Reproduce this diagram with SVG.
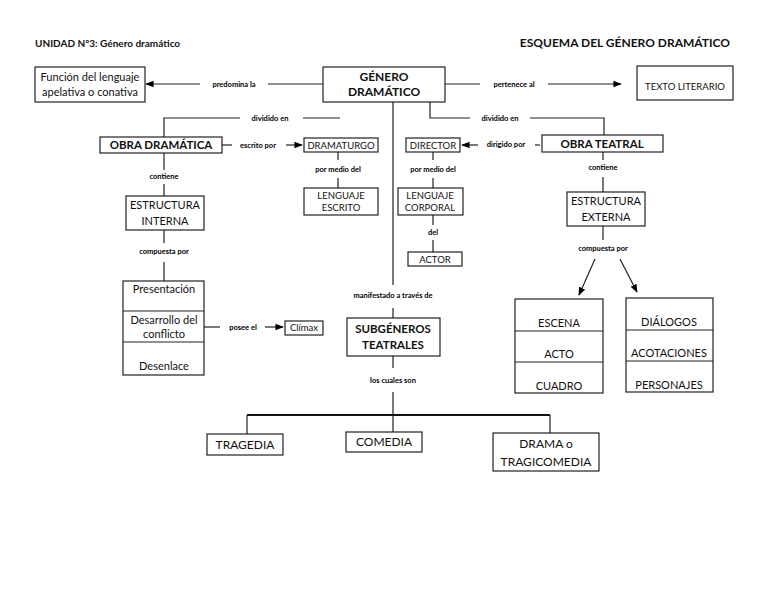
<svg xmlns="http://www.w3.org/2000/svg" width="768" height="594" viewBox="0 0 768 594">
<defs>
<marker id="ah" viewBox="0 0 10 10" refX="9" refY="5" markerWidth="7" markerHeight="7" orient="auto-start-reverse"><path d="M0,1 L10,5 L0,9 z" fill="#000"/></marker>
<style>
text{font-family:Lato,"Open Sans","Liberation Sans",sans-serif;fill:#111;text-anchor:middle}
.b{fill:#fff;stroke:#222;stroke-width:1.2}
.l{stroke:#222;stroke-width:1.2;fill:none}
.t{font-size:11px}
.s{font-size:7.5px;font-weight:bold;fill:#000}
.h{font-size:12px;font-weight:bold}
.m{font-size:11.5px;font-weight:bold}
.n{font-size:9.5px}
</style>
</defs>
<rect width="768" height="594" fill="#fff"/>
<text x="35" y="47" style="text-anchor:start;font-size:10px;font-weight:bold">UNIDAD N°3: Género dramático</text>
<text x="730" y="47" style="text-anchor:end;font-size:12px;font-weight:bold">ESQUEMA DEL GÉNERO DRAMÁTICO</text>

<g id="connectors">
<path class="l" d="M200,84 H146" marker-end="url(#ah)"/><path class="l" d="M268,84 H323"/>
<text class="s" x="234" y="87">predomina la</text>
<path class="l" d="M445,84 H480"/><path class="l" d="M548,84 H621" marker-end="url(#ah)"/>
<text class="s" x="514" y="87">pertenece al</text>
<path class="l" d="M340,118 H303 M240,118 H164 V137"/><text class="s" x="270" y="121">dividido en</text>
<path class="l" d="M222,145 H232"/><path class="l" d="M286,145 H302" marker-end="url(#ah)"/><text class="s" x="258" y="148">escrito por</text>
<path class="l" d="M338,152 V160 M338,178 V188"/><text class="s" x="338" y="172">por medio del</text>
<path class="l" d="M164,153 V170 M164,184 V196"/><text class="s" x="164" y="179">contiene</text>
<path class="l" d="M164,230 V243 M164,262 V281"/><text class="s" x="164" y="254">compuesta por</text>
<path class="l" d="M204,327 H220"/><path class="l" d="M265,327 H283" marker-end="url(#ah)"/><text class="s" x="243" y="330">posee el</text>
<path class="l" d="M393,102 V285 M393,308 V318"/><text class="s" x="393" y="298">manifestado a través de</text>
<path class="l" d="M393,356 V368 M393,392 V415"/><text class="s" x="393" y="383">los cuales son</text>
<path d="M247,415 H550" stroke="#111" stroke-width="2.2" fill="none"/>
<path class="l" d="M247,415 V434 M393,415 V432 M550,415 V433"/>
<path class="l" d="M430,102 V118 H470 M530,118 H604 V135"/><text class="s" x="500" y="121">dividido en</text>
<path class="l" d="M540,145 H535"/><path class="l" d="M478,145 H462" marker-end="url(#ah)"/><text class="s" x="506" y="147">dirigido por</text>
<path class="l" d="M433,152 V160 M433,178 V188"/><text class="s" x="433" y="172">por medio del</text>
<path class="l" d="M433,215 V225 M433,240 V252"/><text class="s" x="433" y="235">del</text>
<path class="l" d="M603,152 V160 M603,177 V192"/><text class="s" x="603" y="170">contiene</text>
<path class="l" d="M603,226 V240"/><text class="s" x="603" y="251">compuesta por</text>
<path class="l" d="M595,259 L579,295" marker-end="url(#ah)"/>
<path class="l" d="M620,259 L637,292" marker-end="url(#ah)"/>
</g>

<g id="funcion"><rect class="b" x="35" y="67" width="110" height="35"/><text class="t" x="90" y="81">Función del lenguaje</text><text class="t" x="90" y="96">apelativa o conativa</text></g>
<g id="genero"><rect class="b" x="323" y="67" width="122" height="35"/><text class="h" x="384" y="81">GÉNERO</text><text class="h" x="384" y="96">DRAMÁTICO</text></g>
<g id="texto"><rect class="b" x="637" y="66" width="96" height="34"/><text class="n" x="685" y="90">TEXTO LITERARIO</text></g>
<g id="obra-dramatica"><rect class="b" x="100" y="137" width="122" height="16"/><text class="m" x="161" y="149">OBRA DRAMÁTICA</text></g>
<g id="dramaturgo"><rect class="b" x="304" y="138" width="74" height="14"/><text class="n" x="341" y="149">DRAMATURGO</text></g>
<g id="lenguaje-escrito"><rect class="b" x="304" y="188" width="74" height="27"/><text class="n" x="341" y="199">LENGUAJE</text><text class="n" x="341" y="211">ESCRITO</text></g>
<g id="estructura-interna"><rect class="b" x="126" y="196" width="78" height="34"/><text class="t" x="165" y="209">ESTRUCTURA</text><text class="t" x="165" y="225">INTERNA</text></g>
<g id="partes"><rect class="b" x="123" y="281" width="81" height="94"/><path class="l" d="M123,311 H204 M123,342 H204"/>
<text class="t" x="164" y="293">Presentación</text><text class="t" x="164" y="324">Desarrollo del</text><text class="t" x="164" y="338">conflicto</text><text class="t" x="164" y="370">Desenlace</text></g>
<g id="climax"><rect class="b" x="285" y="321" width="38" height="14"/><text class="n" x="304" y="331">Clímax</text></g>
<g id="subgeneros"><rect class="b" x="347" y="318" width="93" height="38"/><text class="m" x="393" y="333">SUBGÉNEROS</text><text class="m" x="393" y="349">TEATRALES</text></g>
<g id="tragedia"><rect class="b" x="207" y="434" width="76" height="21"/><text class="t" x="245" y="449" style="font-size:12px">TRAGEDIA</text></g>
<g id="comedia"><rect class="b" x="346" y="432" width="76" height="20"/><text class="t" x="384" y="446" style="font-size:12px">COMEDIA</text></g>
<g id="drama"><rect class="b" x="493" y="433" width="106" height="38"/><text class="t" x="546" y="448" style="font-size:12px">DRAMA o</text><text class="t" x="546" y="466" style="font-size:12px">TRAGICOMEDIA</text></g>
<g id="obra-teatral"><rect class="b" x="542" y="135" width="121" height="17"/><text class="m" x="602" y="148">OBRA TEATRAL</text></g>
<g id="director"><rect class="b" x="406" y="138" width="54" height="14"/><text class="n" x="433" y="149">DIRECTOR</text></g>
<g id="lenguaje-corporal"><rect class="b" x="398" y="188" width="65" height="27"/><text class="n" x="430" y="199">LENGUAJE</text><text class="n" x="430" y="211">CORPORAL</text></g>
<g id="actor"><rect class="b" x="408" y="252" width="54" height="14"/><text class="n" x="435" y="263">ACTOR</text></g>
<g id="estructura-externa"><rect class="b" x="567" y="192" width="78" height="34"/><text class="t" x="606" y="205">ESTRUCTURA</text><text class="t" x="606" y="221">EXTERNA</text></g>
<g id="escena"><rect class="b" x="515" y="299" width="88" height="94"/><path class="l" d="M515,331 H603 M515,362 H603"/>
<text class="t" x="559" y="327">ESCENA</text><text class="t" x="559" y="358">ACTO</text><text class="t" x="559" y="390">CUADRO</text></g>
<g id="dialogos"><rect class="b" x="626" y="298" width="87" height="94"/><path class="l" d="M626,330 H713 M626,361 H713"/>
<text class="t" x="669" y="326">DIÁLOGOS</text><text class="t" x="669" y="357">ACOTACIONES</text><text class="t" x="669" y="389">PERSONAJES</text></g>
</svg>
